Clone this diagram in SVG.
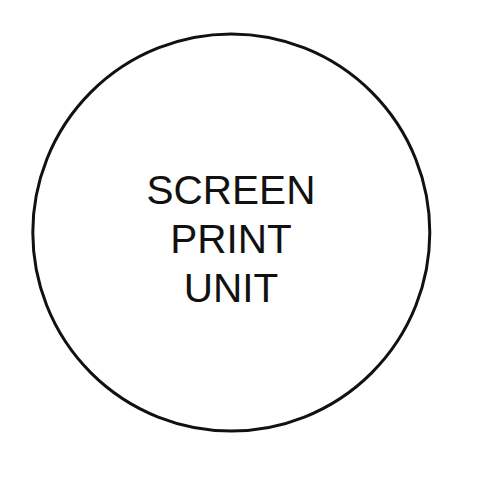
<svg xmlns="http://www.w3.org/2000/svg" width="484" height="500" viewBox="0 0 484 500">
<style>
.lbl{font-family:"Liberation Sans",Arial,sans-serif;font-size:40.5px;fill:#111111;text-anchor:middle}
</style>
<rect width="484" height="500" fill="#ffffff"/>
<g id="node-screen-print-unit">
<circle cx="231.3" cy="232.5" r="198.5" fill="none" stroke="#111111" stroke-width="3"/>
<text class="lbl" x="231" y="204.3">SCREEN</text>
<text class="lbl" x="231" y="253.3">PRINT</text>
<text class="lbl" x="231" y="302.3">UNIT</text>
</g>
<g id="connectors"/>
</svg>
